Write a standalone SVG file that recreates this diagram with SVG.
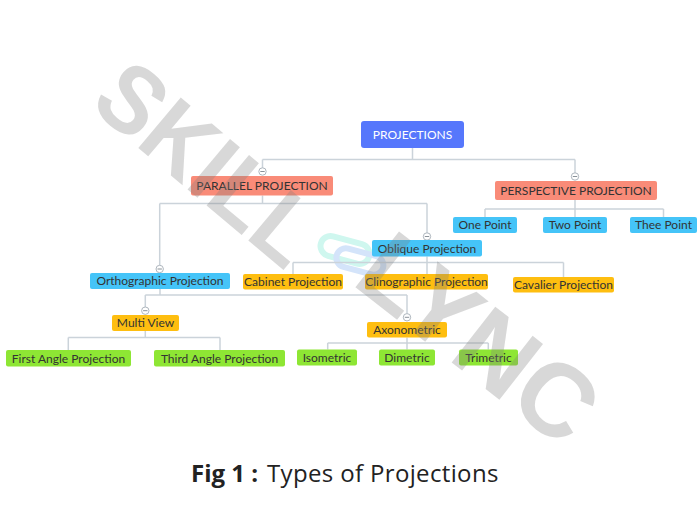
<svg xmlns="http://www.w3.org/2000/svg" width="700" height="514" viewBox="0 0 700 514">
<style>
.n text{font-family:"Lato","Liberation Sans",sans-serif;font-size:12px;fill:#333;text-anchor:middle}
.root rect{fill:#5677FC}
.root text{fill:#fff;font-size:12px}
.red rect{fill:#F98B78}
.blue rect{fill:#45C4F8}
.org rect{fill:#FEBE10}
.grn rect{fill:#8EE634}
.c{fill:none;stroke:#CBD3DA;stroke-width:1.5}
.k circle{fill:#fff;stroke:#AEB6BE;stroke-width:1}
.k path{stroke:#8A9299;stroke-width:1}
.wm{font-family:"Liberation Sans",Arial,sans-serif;font-weight:bold;fill:#7f7f7f;fill-opacity:0.3}
.cap{font-family:"Open Sans","Liberation Sans",sans-serif;font-size:24px;fill:#222}
</style>
<rect width="700" height="514" fill="#fff"/>
<g id="link-icon" fill="none" stroke-width="6">
<rect x="320" y="240" width="50" height="20" rx="10" stroke="#CFF7EF" transform="rotate(15 345 250)"/>
<rect x="336" y="252" width="48" height="19" rx="9.5" stroke="#D4E4FA" transform="rotate(15 360 261)"/>
</g>
<g id="connectors" class="c">
<path d="M412.5,148V159.5M262.5,159.5H575M262.5,159.5V168M575,159.5V173"/>
<path d="M262.5,195.5V203.5M159.7,203.5H427M159.7,203.5V265.5M427,203.5V233"/>
<path d="M575,200V209M485,209H663.5M485,209V217M575,209V217M663.5,209V217"/>
<path d="M427,256.5V262.5M293,262.5H563.5M293,262.5V274M427,262.5V274M563.5,262.5V277"/>
<path d="M160,289V295M145.3,295H407M145.3,295V307M407,295V313.5"/>
<path d="M145.3,331V337.5M68.3,337.5H220M68.3,337.5V350M220,337.5V350"/>
<path d="M407,337.5V343M327.7,343H488.3M327.7,343V349.5M407,343V349.5M488.3,343V349.5"/>
</g>
<g id="toggles" class="k">
<g><circle cx="262.5" cy="171.5" r="3.7"/><path d="M260.3,171.5H264.7"/></g>
<g><circle cx="575" cy="176.5" r="3.7"/><path d="M572.8,176.5H577.2"/></g>
<g><circle cx="427" cy="236.5" r="3.7"/><path d="M424.8,236.5H429.2"/></g>
<g><circle cx="159.7" cy="269" r="3.7"/><path d="M157.5,269H161.9"/></g>
<g><circle cx="145.3" cy="310.7" r="3.7"/><path d="M143.1,310.7H147.5"/></g>
<g><circle cx="407" cy="317.3" r="3.7"/><path d="M404.8,317.3H409.2"/></g>
</g>
<g id="projections" class="n root"><rect x="361" y="121" width="103" height="27" rx="3"/><text x="412.5" y="138.5">PROJECTIONS</text></g>
<g id="parallel" class="n red"><rect x="191" y="176" width="142" height="19.5" rx="2"/><text x="262" y="190">PARALLEL PROJECTION</text></g>
<g id="perspective" class="n red"><rect x="495" y="181" width="162" height="19" rx="2"/><text x="576" y="194.8">PERSPECTIVE PROJECTION</text></g>
<g id="one-point" class="n blue"><rect x="453" y="217" width="64" height="16" rx="2"/><text x="485" y="229.2">One Point</text></g>
<g id="two-point" class="n blue"><rect x="543" y="217" width="64" height="16" rx="2"/><text x="575" y="229.2">Two Point</text></g>
<g id="thee-point" class="n blue"><rect x="630" y="217" width="67" height="16" rx="2"/><text x="663.5" y="229.2">Thee Point</text></g>
<g id="oblique" class="n blue"><rect x="372" y="240" width="110" height="16.5" rx="2"/><text x="427" y="252.5">Oblique Projection</text></g>
<g id="orthographic" class="n blue"><rect x="90" y="273" width="140" height="16" rx="2"/><text x="160" y="285.2">Orthographic Projection</text></g>
<g id="cabinet" class="n org"><rect x="243" y="274" width="100" height="15.5" rx="2"/><text x="293" y="286">Cabinet Projection</text></g>
<g id="clinographic" class="n org"><rect x="365" y="274" width="123" height="15.5" rx="2"/><text x="426.5" y="286">Clinographic Projection</text></g>
<g id="cavalier" class="n org"><rect x="513" y="277" width="101" height="15.5" rx="2"/><text x="563.5" y="289">Cavalier Projection</text></g>
<g id="multi-view" class="n org"><rect x="112" y="315" width="67" height="16" rx="2"/><text x="145.5" y="327.2">Multi View</text></g>
<g id="axonometric" class="n org"><rect x="367" y="322" width="80" height="15.5" rx="2"/><text x="407" y="334">Axonometric</text></g>
<g id="first-angle" class="n grn"><rect x="6" y="350" width="125" height="16.5" rx="2"/><text x="68.5" y="362.5">First Angle Projection</text></g>
<g id="third-angle" class="n grn"><rect x="154" y="350" width="131" height="16.5" rx="2"/><text x="219.5" y="362.5">Third Angle Projection</text></g>
<g id="isometric" class="n grn"><rect x="297" y="349.5" width="60" height="16" rx="2"/><text x="327" y="361.7">Isometric</text></g>
<g id="dimetric" class="n grn"><rect x="379" y="349.5" width="56" height="16" rx="2"/><text x="407" y="361.7">Dimetric</text></g>
<g id="trimetric" class="n grn"><rect x="459" y="349.5" width="59" height="16" rx="2"/><text x="488.5" y="361.7">Trimetric</text></g>
<g id="watermark">
<text class="wm" font-size="96" x="88" y="106" transform="rotate(40 88 106)" textLength="258" lengthAdjust="spacingAndGlyphs">SKILL</text>
<text class="wm" font-size="103" x="350" y="283" transform="rotate(38 350 283)">LYNC</text>
</g>
<g id="caption">
<text class="cap" x="191" y="482" font-weight="bold">Fig 1 :</text>
<text class="cap" x="267" y="482" letter-spacing="0.35">Types of Projections</text>
</g>
</svg>
